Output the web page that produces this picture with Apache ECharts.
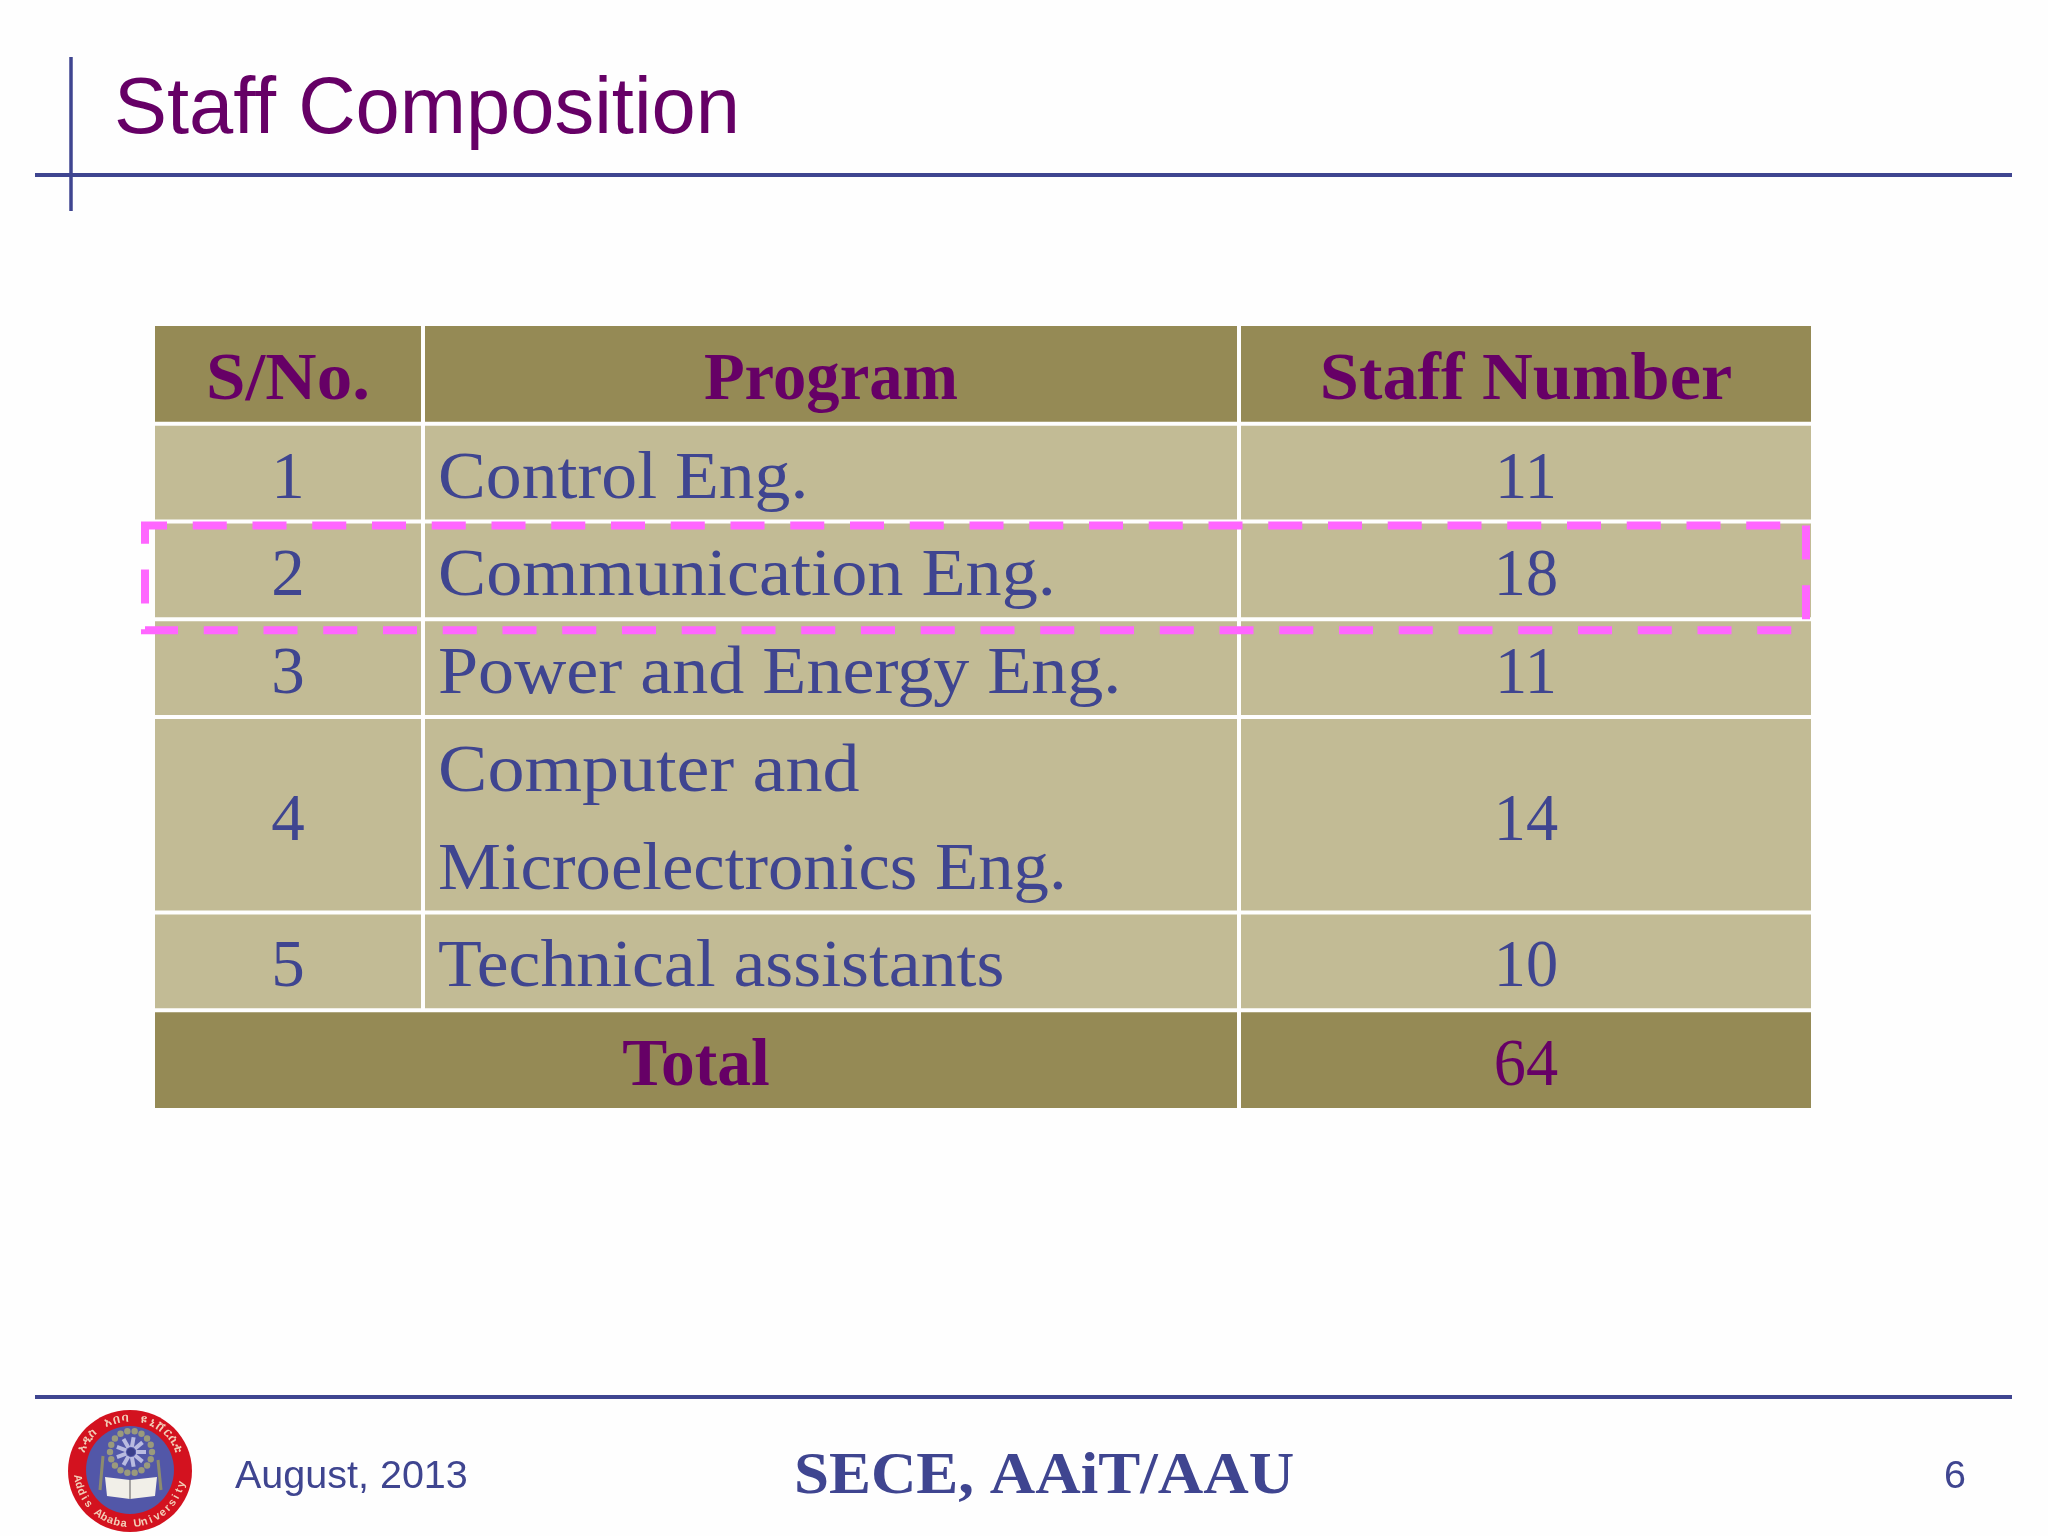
<!DOCTYPE html>
<html>
<head>
<meta charset="utf-8">
<title>Staff Composition</title>
<script src="https://cdn.jsdelivr.net/npm/echarts@6/dist/echarts.min.js"></script>
<style>
  html, body { margin: 0; padding: 0; background: #fefefe; }
  #chart-container { width: 2048px; height: 1536px; }
</style>
</head>
<body>
<div id="chart-container"></div>
<script>
// Table content
const headers = ["S/No.", "Program", "Staff Number"];
const serialNumbers = ["1", "2", "3", "4", "5"];
const programs = [
  "Control Eng.",
  "Communication Eng.",
  "Power and Energy Eng.",
  "Computer and\nMicroelectronics Eng.",
  "Technical assistants",
];
const staffNumbers = [11, 18, 11, 14, 10];
const rowSpans = [1, 1, 1, 2, 1];
const totalLabel = "Total";
const totalStaff = 64;
const highlightedRow = 1; // index into programs

const titleText = "Staff Composition";
const footerDate = "August, 2013";
const footerCenter = "SECE, AAiT/AAU";
const footerPage = "6";

// Layout of the table on the slide
const columnEdges = [0, 268, 1084, 1656];
const gridBox = { left: 155, top: 326, width: 1656, height: 782 };
const rowUnits = 8;
const gap = 2;
const lineStep = 98;

const purple = "#660066";
const blue = "#3f4590";
const headFill = "#958a55";
const bodyFill = "#c2bb95";
const serif = '"Liberation Serif", serif';
const sans = '"Liberation Sans", Arial, sans-serif';
const fontSize = 67;
// horizontal stretch, the original face is a little wider than Liberation Serif
const headerWiden = [1.06, 0.995, 1.05];
const programWiden = [[1.07], [1.078], [1.076], [1.105, 1.056], [1.07]];
const numberWiden = 0.96;

// Build the cells: [colStart, colEnd, rowStart, rowEnd]
const cells = [];
function addCell(c0, c1, r0, r1, text, opts) {
  cells.push(Object.assign({ value: [columnEdges[c0], columnEdges[c1], r0, r1], text: text }, opts));
}
headers.forEach(function (h, i) {
  addCell(i, i + 1, 0, 1, h, { fill: headFill, color: purple, bold: true, widen: [headerWiden[i]] });
});
let rowAt = 1;
programs.forEach(function (p, i) {
  const end = rowAt + rowSpans[i];
  addCell(0, 1, rowAt, end, serialNumbers[i], { fill: bodyFill, color: blue, widen: [1] });
  addCell(1, 2, rowAt, end, p, { fill: bodyFill, color: blue, left: true, widen: programWiden[i] });
  addCell(2, 3, rowAt, end, String(staffNumbers[i]), { fill: bodyFill, color: blue, widen: [numberWiden] });
  rowAt = end;
});
addCell(0, 2, rowAt, rowAt + 1, totalLabel, { fill: headFill, color: purple, bold: true, widen: [1.007] });
addCell(2, 3, rowAt, rowAt + 1, String(totalStaff), { fill: headFill, color: purple, widen: [numberWiden] });

function renderCell(params, api) {
  const cell = cells[params.dataIndex];
  const p0 = api.coord([api.value(0), api.value(2)]);
  const p1 = api.coord([api.value(1), api.value(3)]);
  const x0 = api.value(0) > 0 ? p0[0] + gap : p0[0];
  const x1 = api.value(1) < columnEdges[3] ? p1[0] - gap : p1[0];
  const y0 = api.value(2) > 0 ? p0[1] + gap : p0[1];
  const y1 = api.value(3) < rowUnits ? p1[1] - gap : p1[1];
  const tx = cell.left ? x0 + 13 : (x0 + x1) / 2;
  const lines = cell.text.split("\n");
  const children = [
    { type: "rect", shape: { x: x0, y: y0, width: x1 - x0, height: y1 - y0 }, style: { fill: cell.fill } },
  ];
  lines.forEach(function (line, i) {
    children.push({
      type: "text",
      x: tx,
      y: (y0 + y1) / 2 + 7.5 + (i - (lines.length - 1) / 2) * lineStep,
      scaleX: cell.widen[i],
      style: {
        text: line,
        fill: cell.color,
        font: (cell.bold ? "bold " : "") + fontSize + "px " + serif,
        align: cell.left ? "left" : "center",
        verticalAlign: "middle",
      },
    });
  });
  return { type: "group", children: children };
}

function renderHighlight(params, api) {
  // dashed box around the highlighted programme row
  let start = 1;
  for (let i = 0; i < highlightedRow; i++) start += rowSpans[i];
  const p0 = api.coord([0, start]);
  const p1 = api.coord([columnEdges[3], start + rowSpans[highlightedRow]]);
  return {
    type: "rect",
    shape: { x: p0[0] - 10, y: p0[1] + 4, width: p1[0] - p0[0] + 5, height: p1[1] - p0[1] + 7 },
    style: { fill: "none", stroke: "#ff66ff", lineWidth: 8, lineDash: [34, 25.75], lineDashOffset: 12 },
  };
}

// University seal, drawn from plain shapes
function sealElements() {
  const cx = 130, cy = 1471;
  const els = [
    { type: "ellipse", shape: { cx: cx, cy: cy, rx: 62, ry: 61 }, style: { fill: "#d3121f" } },
    { type: "ellipse", shape: { cx: cx, cy: cy - 1, rx: 44, ry: 44 }, style: { fill: "#5257a8" } },
  ];
  const wx = 131, wy = 1452;
  for (let i = 0; i < 18; i++) {
    const a = (i / 18) * Math.PI * 2;
    els.push({ type: "circle", shape: { cx: wx + 21 * Math.cos(a), cy: wy + 21 * Math.sin(a), r: 3.2 }, style: { fill: "#9a9a7c" } });
  }
  for (let i = 0; i < 9; i++) {
    const a = (i / 9) * Math.PI * 2;
    els.push({
      type: "line",
      shape: { x1: wx + 5 * Math.cos(a), y1: wy + 5 * Math.sin(a), x2: wx + 15 * Math.cos(a), y2: wy + 15 * Math.sin(a) },
      style: { stroke: "#b9bbe0", lineWidth: 4 },
    });
  }
  els.push({ type: "circle", shape: { cx: wx, cy: wy, r: 4 }, style: { fill: "#3a3f8a" } });
  els.push({ type: "polygon", shape: { points: [[105, 1477], [130, 1480], [157, 1477], [155, 1496], [130, 1499], [107, 1496]] }, style: { fill: "#f1efe8" } });
  els.push({ type: "line", shape: { x1: 130, y1: 1480, x2: 130, y2: 1499 }, style: { stroke: "#8b8a8a", lineWidth: 1.5 } });
  els.push({ type: "line", shape: { x1: 100, y1: 1490, x2: 103, y2: 1456 }, style: { stroke: "#8d8c6e", lineWidth: 3 } });
  els.push({ type: "line", shape: { x1: 161, y1: 1490, x2: 158, y2: 1460 }, style: { stroke: "#8d8c6e", lineWidth: 3 } });
  // lettering around the ring
  const lower = "Addis Ababa University";
  lower.split("").forEach(function (ch, i) {
    const a = Math.PI * (0.955 - (0.875 * i) / (lower.length - 1));
    els.push({
      type: "text", x: cx + 53 * Math.cos(a), y: cy + 53 * Math.sin(a), rotation: Math.PI / 2 - a,
      style: { text: ch, fill: "#f2cfb8", font: "bold 11px " + sans, align: "center", verticalAlign: "middle" },
    });
  });
  const upper = "አዲስ አበባ ዩኒቨርሲቲ";
  upper.split("").forEach(function (ch, i) {
    const a = Math.PI * (1.14 + (0.72 * i) / (upper.length - 1));
    els.push({
      type: "text", x: cx + 53 * Math.cos(a), y: cy + 53 * Math.sin(a), rotation: -Math.PI / 2 - a,
      style: { text: ch, fill: "#f2cfb8", font: "bold 12px " + sans, align: "center", verticalAlign: "middle" },
    });
  });
  return els;
}

const myChart = echarts.init(document.getElementById("chart-container"), null, { renderer: "canvas" });

const option = {
  animation: false,
  backgroundColor: "#fefefe",
  grid: gridBox,
  xAxis: { type: "value", min: 0, max: columnEdges[3], show: false },
  yAxis: { type: "value", min: 0, max: rowUnits, inverse: true, show: false },
  series: [
    {
      type: "custom",
      renderItem: renderCell,
      clip: false,
      silent: true,
      encode: { x: [0, 1], y: [2, 3] },
      data: cells.map(function (c) { return c.value; }),
    },
    {
      type: "custom",
      renderItem: renderHighlight,
      clip: false,
      silent: true,
      z: 5,
      data: [[0, 0]],
    },
  ],
  graphic: [
    { type: "line", shape: { x1: 71, y1: 57, x2: 71, y2: 211 }, style: { stroke: blue, lineWidth: 3.5 } },
    { type: "line", shape: { x1: 35, y1: 175, x2: 2012, y2: 175 }, style: { stroke: blue, lineWidth: 4 } },
    { type: "line", shape: { x1: 35, y1: 1397, x2: 2012, y2: 1397 }, style: { stroke: blue, lineWidth: 4 } },
    { type: "text", x: 114, y: 111, style: { text: titleText, fill: purple, font: "79.5px " + sans, verticalAlign: "middle" } },
    { type: "text", x: 235, y: 1477, style: { text: footerDate, fill: blue, font: "39.5px " + sans, verticalAlign: "middle" } },
    { type: "text", x: 1044, y: 1478, scaleX: 1.067, style: { text: footerCenter, fill: blue, font: "bold 59px " + serif, align: "center", verticalAlign: "middle" } },
    { type: "text", x: 1955, y: 1477, style: { text: footerPage, fill: blue, font: "39.5px " + sans, align: "center", verticalAlign: "middle" } },
    { type: "group", children: sealElements() },
  ],
};

myChart.setOption(option);

window.addEventListener("resize", function () {
  myChart.resize();
});
</script>
</body>
</html>
